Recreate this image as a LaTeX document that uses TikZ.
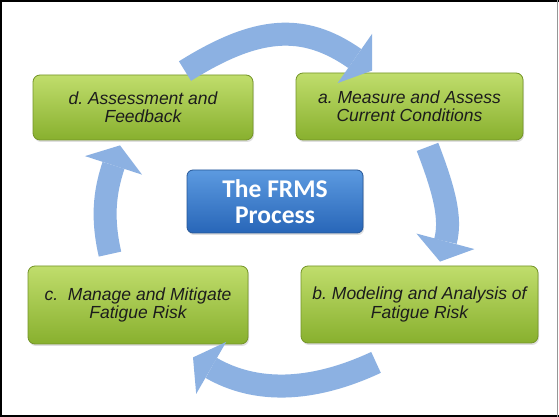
\documentclass[tikz,border=0pt]{standalone}
\usepackage{fontspec}
\setmainfont{Liberation Sans}
\newfontfamily\corefont{Carlito}
\usepackage{tikz}
\usetikzlibrary{positioning, arrows.meta, calc, shadows}
\definecolor{stepTop}{RGB}{192, 221, 108}
\definecolor{stepBottom}{RGB}{136, 176, 46}
\definecolor{stepBorder}{RGB}{116, 148, 40}
\definecolor{stepText}{RGB}{28, 28, 28}
\definecolor{coreTop}{RGB}{92, 154, 224}
\definecolor{coreBottom}{RGB}{40, 102, 184}
\definecolor{coreBorder}{RGB}{38, 86, 150}
\definecolor{cycleBlue}{RGB}{140, 177, 226}
\definecolor{frameGray}{RGB}{150, 150, 150}
\tikzset{
    frms_step/.style={
        rectangle,
        rounded corners=7pt,
        draw=stepBorder,
        line width=0.8pt,
        top color=stepTop,
        bottom color=stepBottom,
        text=stepText,
        align=center,
        inner sep=0pt,
        font=\fontsize{17.5}{18.5}\selectfont\itshape,
        drop shadow={opacity=0.25, shadow xshift=1pt, shadow yshift=-2pt}
    },
    frms_core/.style={
        rectangle,
        rounded corners=6pt,
        draw=coreBorder,
        line width=0.8pt,
        top color=coreTop,
        bottom color=coreBottom,
        text=white,
        align=center,
        inner sep=0pt,
        minimum width=176pt,
        minimum height=63pt,
        font=\corefont\bfseries\fontsize{25.5}{26.5}\selectfont,
        drop shadow={opacity=0.25, shadow xshift=1pt, shadow yshift=-2pt}
    },
    frms_cycle/.style={
        draw,
        color=cycleBlue,
        line width=23pt,
        -{Triangle[width=60pt, length=21pt, line width=0pt]}
    }
}

\begin{document}
\frenchspacing
\begin{tikzpicture}[x=1pt, y=1pt]
    \useasboundingbox (0,0) rectangle (559,417);
    \fill[white] (0,0) rectangle (559,417);

    \node[frms_core] (core) at (275,215.5) {The FRMS\\Process};
    \node[frms_step, minimum width=227pt, minimum height=67pt] (a) at (409.5,310.5)
        {a. Measure and Assess\\Current Conditions};
    \node[frms_step, minimum width=237pt, minimum height=77pt] (b) at (419.5,112.5)
        {b. Modeling and Analysis of\\Fatigue Risk};
    \node[frms_step, minimum width=220pt, minimum height=78pt] (c) at (138,112)
        {c.\ \ Manage and Mitigate\\Fatigue Risk};
    \node[frms_step, minimum width=220pt, minimum height=65pt] (d) at (143,309.5)
        {d. Assessment and\\Feedback};

    \path
        ($(d.north)+(42,3.5)$) edge[frms_cycle, out=32, in=145, looseness=1.15] ($(a.north)+(-37.5,2)$)
        ($(a.south)+(18,-6.5)$) edge[frms_cycle, out=-69, in=75] ($(b.north)+(20.5,4)$)
        ($(b.south)+(-43.5,-19)$) edge[frms_cycle, out=205, in=-30] ($(c.south)+(55,-13)$)
        ($(c.north)+(-28,11.5)$) edge[frms_cycle, out=103, in=-108] ($(d.south)+(-23,-5)$);

    % frame
    \draw[line width=2.4pt] (1.2,0) -- (1.2,417);
    \draw[line width=2.4pt] (0,415.8) -- (559,415.8);
    \draw[line width=2.4pt] (0,1.2) -- (559,1.2);
    \draw[frameGray, line width=1pt] (557.5,0) -- (557.5,417);
\end{tikzpicture}
\end{document}
